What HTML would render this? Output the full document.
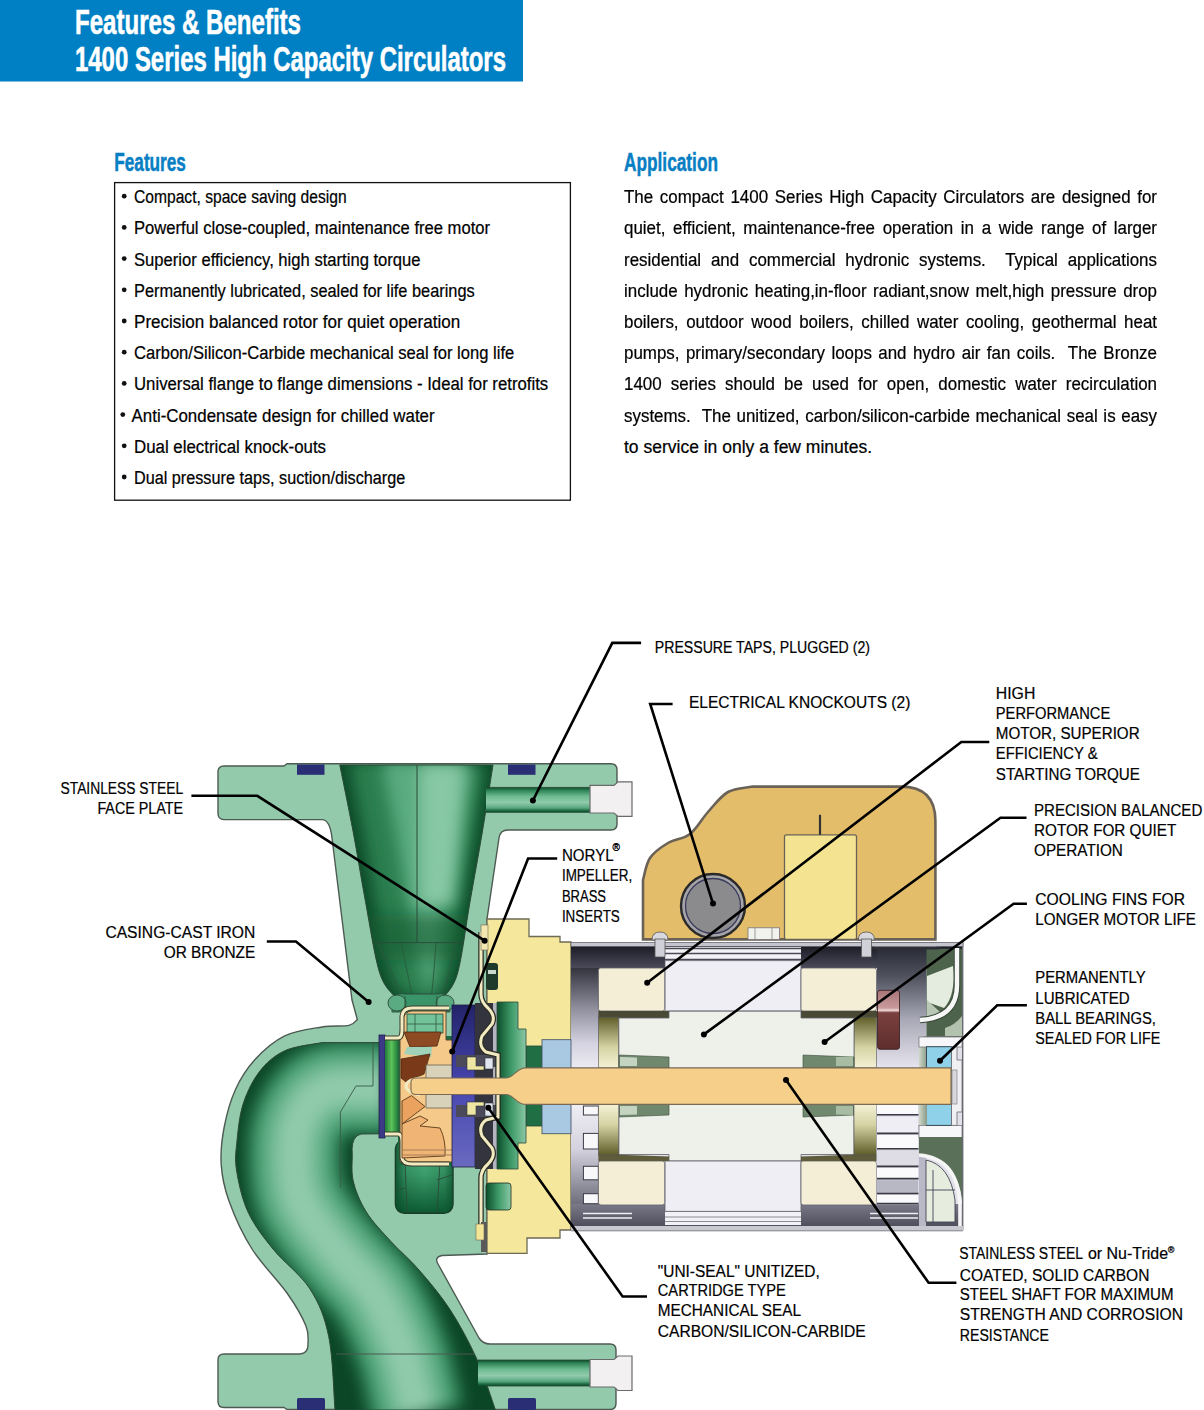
<!DOCTYPE html>
<html><head><meta charset="utf-8"><title>Features &amp; Benefits - 1400 Series High Capacity Circulators</title>
<style>
html,body{margin:0;padding:0;background:#fff;}
body{width:1204px;height:1410px;position:relative;overflow:hidden;font-family:"Liberation Sans", sans-serif;}
svg{position:absolute;left:0;top:0;}
svg text{font-family:"Liberation Sans", sans-serif;}
.pl{position:absolute;left:624px;width:567.02px;height:20px;line-height:20px;font-size:18px;color:#000;-webkit-text-stroke:0.22px #000;
  text-align:justify;text-align-last:justify;white-space:nowrap;transform-origin:0 0;transform:scaleX(0.94);}
</style></head>
<body>
<svg width="1204" height="1410" viewBox="0 0 1204 1410">
<defs>
<filter id="blur8" filterUnits="userSpaceOnUse" x="0" y="0" width="1204" height="1410"><feGaussianBlur stdDeviation="8"/></filter>
<filter id="blur5" filterUnits="userSpaceOnUse" x="0" y="0" width="1204" height="1410"><feGaussianBlur stdDeviation="5"/></filter>
<filter id="blur3" filterUnits="userSpaceOnUse" x="0" y="0" width="1204" height="1410"><feGaussianBlur stdDeviation="3"/></filter>
<linearGradient id="gTap" x1="0" y1="0" x2="0" y2="1">
 <stop offset="0" stop-color="#0b4a2a"/><stop offset="0.12" stop-color="#2f8456"/><stop offset="0.35" stop-color="#6cb990"/><stop offset="0.6" stop-color="#90cbac"/><stop offset="0.82" stop-color="#5aa880"/><stop offset="0.92" stop-color="#1f6e44"/><stop offset="1" stop-color="#0b4a2a"/>
</linearGradient>
<linearGradient id="gHousTop" x1="0" y1="0" x2="0" y2="1">
 <stop offset="0" stop-color="#1c1c26"/><stop offset="1" stop-color="#4a4a5a"/>
</linearGradient>
<linearGradient id="gHousSide" x1="0" y1="0" x2="0" y2="1">
 <stop offset="0" stop-color="#2a2a38"/><stop offset="0.45" stop-color="#8a8a9a"/><stop offset="1" stop-color="#e4e2ee"/>
</linearGradient>
<linearGradient id="gHousSideB" x1="0" y1="1" x2="0" y2="0">
 <stop offset="0" stop-color="#3a3a48"/><stop offset="0.45" stop-color="#9a9aaa"/><stop offset="1" stop-color="#e4e2ee"/>
</linearGradient>
<linearGradient id="gOlive" x1="0" y1="0" x2="0" y2="1">
 <stop offset="0" stop-color="#5f5e2a"/><stop offset="0.6" stop-color="#d6d4a4"/><stop offset="1" stop-color="#f4f2d6"/>
</linearGradient>
<linearGradient id="gOliveB" x1="0" y1="1" x2="0" y2="0">
 <stop offset="0" stop-color="#5f5e2a"/><stop offset="0.6" stop-color="#d6d4a4"/><stop offset="1" stop-color="#f4f2d6"/>
</linearGradient>
<linearGradient id="gBlue" x1="0" y1="0" x2="0" y2="1">
 <stop offset="0" stop-color="#23236a"/><stop offset="0.5" stop-color="#4646b0"/><stop offset="1" stop-color="#6a6ac0"/>
</linearGradient>
<linearGradient id="gRed" x1="0" y1="0" x2="0" y2="1">
 <stop offset="0" stop-color="#a87478"/><stop offset="0.3" stop-color="#c89a9c"/><stop offset="0.34" stop-color="#f0d8d8"/><stop offset="0.38" stop-color="#7a403e"/><stop offset="1" stop-color="#5e2e2e"/>
</linearGradient>
<linearGradient id="gGreenBand" x1="0" y1="0" x2="1" y2="0">
 <stop offset="0" stop-color="#1f7a3a"/><stop offset="0.5" stop-color="#5cc45a"/><stop offset="1" stop-color="#1f7a3a"/>
</linearGradient>
<linearGradient id="gDarkGreen" x1="0" y1="0" x2="1" y2="0">
 <stop offset="0" stop-color="#0c4e2a"/><stop offset="0.5" stop-color="#3f9a68"/><stop offset="1" stop-color="#8ac8a6"/>
</linearGradient>
<linearGradient id="gHousBot" x1="0" y1="0" x2="0" y2="1">
 <stop offset="0" stop-color="#7a7a88"/><stop offset="1" stop-color="#4e4e5c"/>
</linearGradient>
<linearGradient id="gWallL" x1="0" y1="0" x2="0" y2="1">
 <stop offset="0" stop-color="#34343f"/><stop offset="0.4" stop-color="#8e8e9c"/><stop offset="0.75" stop-color="#d4d2e0"/><stop offset="1" stop-color="#ecebf2"/>
</linearGradient>
<linearGradient id="gWallLB" x1="0" y1="0" x2="0" y2="1">
 <stop offset="0" stop-color="#f0eff4"/><stop offset="0.45" stop-color="#d4d2de"/><stop offset="1" stop-color="#6e6e7c"/>
</linearGradient>
<linearGradient id="gWallR" x1="0" y1="0" x2="0" y2="1">
 <stop offset="0" stop-color="#262832"/><stop offset="0.25" stop-color="#50525e"/><stop offset="0.6" stop-color="#a8a8b6"/><stop offset="1" stop-color="#e6e4ee"/>
</linearGradient>
<linearGradient id="gWallR2" x1="0" y1="0" x2="1" y2="0">
 <stop offset="0" stop-color="#cfd8c8"/><stop offset="1" stop-color="#8a9a88"/>
</linearGradient>
<linearGradient id="gVol" x1="0" y1="0" x2="0" y2="1">
 <stop offset="0" stop-color="#58b486"/><stop offset="0.45" stop-color="#3c9e6c"/><stop offset="1" stop-color="#0c5a32"/>
</linearGradient>
<linearGradient id="gVolH" x1="0" y1="0" x2="1" y2="0">
 <stop offset="0" stop-color="#0a4a28" stop-opacity="0.85"/><stop offset="0.18" stop-color="#0a4a28" stop-opacity="0.2"/><stop offset="0.5" stop-color="#0a4a28" stop-opacity="0"/><stop offset="0.85" stop-color="#0a4a28" stop-opacity="0.2"/><stop offset="1" stop-color="#0a4a28" stop-opacity="0.7"/>
</linearGradient>
<linearGradient id="gFan" x1="0" y1="0" x2="1" y2="1">
 <stop offset="0" stop-color="#3e5a3e"/><stop offset="1" stop-color="#93a890"/>
</linearGradient>
</defs>
<path d="M224,766 L284,766 L287,763.8 L611,763.8 Q617,763.8 617,770 L617,824 Q617,830 611,830 L508,830 Q500,830 499,838 L487,919 L487,1254 L442,1255.5 Q434,1257 438,1264 L479,1338 Q483,1344 490,1344 L610,1344 Q616,1344 616,1350 L616,1403 Q616,1409.5 610,1409.5 L287,1409.5 L284,1407.5 L224,1407.5 Q218,1407.5 218,1401.5 L218,1360 Q218,1354 224,1354 L300,1354 Q308,1353 308,1345 C307.7,1341.8 309.5,1334.7 306.0,1326.0 C302.5,1317.3 296.0,1305.8 287.0,1293.0 C278.0,1280.2 261.7,1264.3 252.0,1249.0 C242.3,1233.7 234.1,1215.1 229.0,1201.0 C223.9,1186.9 222.0,1176.7 221.2,1164.4 C220.4,1152.1 221.8,1139.5 224.2,1127.0 C226.6,1114.5 230.3,1100.9 235.4,1089.7 C240.5,1078.5 246.6,1068.8 254.8,1059.8 C263.0,1050.8 273.5,1041.4 284.7,1035.9 C295.9,1030.4 311.3,1028.8 322.0,1027.0 C332.7,1025.2 343.1,1026.7 349.0,1025.4 C354.9,1024.1 355.9,1020.4 357.3,1019.4 L352,1000 L332,838 Q330,819.6 322,819.6 L224,819.6 Q218,819.6 218,813 L218,772 Q218,766 224,766 Z" fill="#92caab" stroke="#4d5a52" stroke-width="1.4"/>
<clipPath id="cCone"><path d="M339.8,765 C342.0,776.0 348.7,808.2 353.0,831.0 C357.3,853.8 361.1,878.2 365.5,901.8 C369.9,925.4 374.6,956.8 379.6,972.8 C384.6,988.8 392.9,993.5 395.6,997.6 Q420,1006 443.5,997.6 C445.9,993.5 453.3,988.8 457.7,972.8 C462.1,956.8 465.9,925.4 470.0,901.8 C474.1,878.2 478.7,853.8 482.5,831.0 C486.3,808.2 491.2,776.0 493.0,765.0 Z"/></clipPath>
<g clip-path="url(#cCone)"><rect x="330" y="760" width="170" height="250" fill="#0a4826"/><g filter="url(#blur8)"><path d="M348.8,760 C351.0,776.0 357.7,808.2 362.0,831.0 C366.3,853.8 370.1,878.2 374.5,901.8 C378.9,925.4 383.6,956.8 388.6,972.8 C393.6,988.8 401.9,993.5 404.6,997.6 L436.5,997.6 C438.9,993.5 446.3,988.8 450.7,972.8 C455.1,956.8 458.9,925.4 463.0,901.8 C467.1,878.2 471.7,853.8 475.5,831.0 C479.3,808.2 484.2,776.0 486.0,765.0 Z" fill="#2a7e50"/></g><g filter="url(#blur8)"><path d="M381.8,760 C384.0,776.0 390.7,808.2 395.0,831.0 C399.3,853.8 403.1,878.2 407.5,901.8 C411.9,925.4 416.6,956.8 421.6,972.8 C426.6,988.8 434.9,993.5 437.6,997.6 L421.5,997.6 C423.9,993.5 431.3,988.8 435.7,972.8 C440.1,956.8 443.9,925.4 448.0,901.8 C452.1,878.2 456.7,853.8 460.5,831.0 C464.3,808.2 469.2,776.0 471.0,765.0 Z" fill="#5aab80"/></g><g filter="url(#blur8)"><path d="M420,765 L464,765 L452,905 L420,905 Z" fill="#88c8a5"/></g><g filter="url(#blur8)"><path d="M360,915 L480,915 L470,960 L370,960 Z" fill="#0e5a32" opacity="0.55"/></g><path d="M340,942.6 L495,942.6" stroke="#2a4a38" stroke-width="0.9"/><path d="M417,765 L417,942.6" stroke="#2a4a38" stroke-width="1"/><path d="M378,942.6 Q392,975 404,998 M401,942.6 Q408,975 413,1000 M436,942.6 Q434,975 431,1000 M455,942.6 Q450,975 441,998" stroke="#2a5a40" stroke-width="0.9" fill="none"/></g>
<path d="M339.8,765 C342.0,776.0 348.7,808.2 353.0,831.0 C357.3,853.8 361.1,878.2 365.5,901.8 C369.9,925.4 374.6,956.8 379.6,972.8 C384.6,988.8 392.9,993.5 395.6,997.6 Q420,1006 443.5,997.6 C445.9,993.5 453.3,988.8 457.7,972.8 C462.1,956.8 465.9,925.4 470.0,901.8 C474.1,878.2 478.7,853.8 482.5,831.0 C486.3,808.2 491.2,776.0 493.0,765.0 Z" fill="none" stroke="#2c4a38" stroke-width="1"/>
<clipPath id="cS"><path d="M335,1410 C333.9,1397.8 332.9,1356.7 328.7,1336.5 C324.5,1316.3 319.3,1303.6 310.0,1289.0 C300.7,1274.4 283.3,1261.8 273.0,1249.0 C262.7,1236.2 254.1,1225.2 248.0,1212.0 C241.9,1198.8 238.3,1181.7 236.5,1170.0 C234.7,1158.3 235.8,1152.9 236.9,1142.0 C238.0,1131.1 239.2,1116.3 242.9,1104.6 C246.6,1092.9 252.3,1080.8 259.3,1071.8 C266.3,1062.8 274.2,1055.7 284.7,1050.8 C295.1,1045.9 315.8,1044.0 322.0,1042.6 L380,1042.6 L380,1133.8 L361,1134 Q352,1136 352,1150 C353.0,1155.0 350.8,1169.8 353.0,1180.0 C355.2,1190.2 359.7,1201.2 366.0,1211.5 C372.3,1221.8 382.2,1231.8 391.0,1241.6 C399.8,1251.3 409.2,1258.7 419.0,1270.0 C428.8,1281.3 440.4,1294.7 450.0,1309.5 C459.6,1324.3 469.2,1342.2 476.8,1359.0 C484.4,1375.8 492.4,1401.5 495.5,1410.0 Z"/></clipPath>
<g clip-path="url(#cS)"><rect x="220" y="1030" width="290" height="390" fill="#0b4626"/><g filter="url(#blur8)"><path d="M390,1088 L340,1088 C312,1088 294,1120 294,1150 C294,1180 296,1195 307,1212 C318,1230 345,1262 364,1280 C382,1298 398,1340 405,1360 L418,1415" stroke="#3a9466" stroke-width="92" fill="none"/><path d="M390,1088 L340,1088 C312,1088 294,1120 294,1150 C294,1180 296,1195 307,1212 C318,1230 345,1262 364,1280 C382,1298 398,1340 405,1360 L418,1415" stroke="#66b48c" stroke-width="64" fill="none"/><path d="M390,1088 L340,1088 C312,1088 294,1120 294,1150 C294,1180 296,1195 307,1212 C318,1230 345,1262 364,1280 C382,1298 398,1340 405,1360 L418,1415" stroke="#90cbac" stroke-width="34" fill="none"/></g><path d="M336,1354 L496,1354" stroke="#4a5a50" stroke-width="1"/><path d="M373,1041 L373,1086 L356,1086 L340.4,1112 L340.4,1188" stroke="#3a5a48" stroke-width="0.9" fill="none"/></g>
<path d="M335,1410 C333.9,1397.8 332.9,1356.7 328.7,1336.5 C324.5,1316.3 319.3,1303.6 310.0,1289.0 C300.7,1274.4 283.3,1261.8 273.0,1249.0 C262.7,1236.2 254.1,1225.2 248.0,1212.0 C241.9,1198.8 238.3,1181.7 236.5,1170.0 C234.7,1158.3 235.8,1152.9 236.9,1142.0 C238.0,1131.1 239.2,1116.3 242.9,1104.6 C246.6,1092.9 252.3,1080.8 259.3,1071.8 C266.3,1062.8 274.2,1055.7 284.7,1050.8 C295.1,1045.9 315.8,1044.0 322.0,1042.6 L380,1042.6 L380,1133.8 L361,1134 Q352,1136 352,1150 C353.0,1155.0 350.8,1169.8 353.0,1180.0 C355.2,1190.2 359.7,1201.2 366.0,1211.5 C372.3,1221.8 382.2,1231.8 391.0,1241.6 C399.8,1251.3 409.2,1258.7 419.0,1270.0 C428.8,1281.3 440.4,1294.7 450.0,1309.5 C459.6,1324.3 469.2,1342.2 476.8,1359.0 C484.4,1375.8 492.4,1401.5 495.5,1410.0 Z" fill="none" stroke="#2c4a38" stroke-width="1"/>
<rect x="395.4" y="1140" width="57.6" height="73.3" rx="9" fill="url(#gVol)" stroke="#1e3a2a" stroke-width="1.4"/>
<rect x="395.4" y="1140" width="57.6" height="73.3" rx="9" fill="url(#gVolH)"/>
<path d="M405,1162 L407,1212 M440,1162 L437,1212 M398,1190 L405,1188 M437,1180 L452,1175" stroke="#2a4a38" stroke-width="0.9"/>
<rect x="486" y="787.4" width="106" height="25" fill="url(#gTap)"/>
<path d="M487,787.4 L592,787.4 M485,812.3 L592,812.3" stroke="#2a4a38" stroke-width="0.8"/>
<rect x="478" y="1360" width="114" height="26" fill="url(#gTap)"/>
<path d="M478,1360 L592,1360 M486,1386 L592,1386" stroke="#2a4a38" stroke-width="0.8"/>
<path d="M590,785.4 L614,785.4 L618,781.8 L632,781.8 L632,816.4 L618,816.4 L614,813 L590,813 Z" fill="#f2f0f0" stroke="#6a6a6a" stroke-width="1.2"/>
<path d="M590,1359.5 L614,1359.5 L618,1356 L632,1356 L632,1390.5 L618,1390.5 L614,1387 L590,1387 Z" fill="#f2f0f0" stroke="#6a6a6a" stroke-width="1.2"/>
<rect x="297" y="764.5" width="27.5" height="10.3" fill="#2a2e74"/>
<rect x="297" y="1398" width="28" height="12" rx="1.5" fill="#2a2e74"/>
<rect x="508" y="764.5" width="27.5" height="10.3" fill="#2a2e74"/>
<rect x="508" y="1398" width="28" height="12" rx="1.5" fill="#2a2e74"/>
<path d="M487,919 L529,919 L529,936.5 L560,936.5 L560,942 L571,942 L571,1230 L560,1230 L560,1238 L527,1238 L527,1253.4 L487,1253.4 Z" fill="#f5e79b" stroke="#6d6a55" stroke-width="1.3"/>
<g><rect x="571" y="942" width="392" height="289" fill="#e2e1ea"/><rect x="571" y="946" width="392" height="22" fill="url(#gHousTop)"/><rect x="571" y="968" width="28" height="100" fill="url(#gWallL)"/><rect x="665" y="947" width="136" height="14" fill="#f2f2f6"/><path d="M665,948.5 L801,948.5 M665,953.5 L801,953.5 M665,959.5 L801,959.5" stroke="#4a4a56" stroke-width="1.4"/><rect x="665" y="960.7" width="136" height="50.3" fill="#efeef4" stroke="#60606a" stroke-width="0.8"/><rect x="598.4" y="968" width="66.3" height="43" rx="2.5" fill="#f4eed6" stroke="#60606a" stroke-width="0.8"/><rect x="801" y="968" width="75.5" height="43" rx="2.5" fill="#f4eed6" stroke="#60606a" stroke-width="0.8"/><rect x="598.4" y="1011" width="70.6" height="7" fill="#4a4934"/><rect x="801" y="1011" width="76" height="7" fill="#4a4934"/><rect x="598.4" y="1017" width="20.4" height="51" fill="url(#gOlive)" stroke="#50505a" stroke-width="0.6"/><rect x="854" y="1017" width="22.5" height="51" fill="url(#gOlive)" stroke="#50505a" stroke-width="0.6"/><path d="M618.8,1018 L669,1018 L669,1011.2 L801,1011.2 L801,1018 L854,1018 L854,1154.5 L801,1154.5 L801,1161 L669,1161 L669,1154.5 L618.8,1154.5 Z" fill="#eef1ea" stroke="#60606a" stroke-width="0.8"/><path d="M619,1055 L669,1057 L669,1068 L619,1068 Z" fill="#70886e" stroke="#3a4a3a" stroke-width="0.6"/><path d="M619,1104 L669,1104 L669,1115 L619,1117 Z" fill="#70886e" stroke="#3a4a3a" stroke-width="0.6"/><path d="M803,1055 L854,1057 L854,1068 L803,1068 Z" fill="#70886e" stroke="#3a4a3a" stroke-width="0.6"/><path d="M803,1104 L854,1104 L854,1115 L803,1117 Z" fill="#70886e" stroke="#3a4a3a" stroke-width="0.6"/><path d="M620,1057 L637,1057.5 L637,1066 L620,1066 Z M620,1106 L637,1106 L637,1114.5 L620,1115 Z" fill="#c4d4c0"/><path d="M836,1057 L853,1056.5 L853,1066 L836,1066 Z M836,1106 L853,1106 L853,1115 L836,1114.5 Z" fill="#a8bca4"/><rect x="877" y="946" width="49.5" height="122" fill="url(#gWallR)"/><rect x="919" y="1036" width="8" height="32" fill="url(#gWallR2)"/><rect x="877.5" y="990.3" width="22" height="59" rx="2.5" fill="url(#gRed)" stroke="#3e2424" stroke-width="0.9"/><rect x="926.5" y="948.8" width="35.5" height="88" fill="#4e634c"/><path d="M927,976 L953,966 Q956,995 944,1008 L927,1002 Z" fill="#e4ebdf"/><path d="M927,1000 L940,1012 Q935,1018 927,1020 Z" fill="#b9c8b4"/><path d="M945,1036 L962,1036 L962,1016 Q955,1025 945,1028 Z" fill="#b3c2ae"/><path d="M957,948 L957,985 Q957,1018 920,1020" fill="none" stroke="#3a4a3a" stroke-width="6.4"/><path d="M957,948 L957,985 Q957,1018 920,1020" fill="none" stroke="#f7f7f7" stroke-width="4.4"/><rect x="919" y="1037" width="43" height="10" fill="#f7f7f9" stroke="#6a6a72" stroke-width="0.7"/><rect x="926.5" y="1046.7" width="25" height="24.3" fill="#8fd1e8" stroke="#3a4a55" stroke-width="1"/><rect x="871" y="942.5" width="69" height="7" rx="2" fill="#2e2e38"/><path d="M874,946 L936,946" stroke="#e8e8ec" stroke-width="1.5"/><rect x="571" y="1204" width="392" height="22" fill="url(#gHousBot)"/><rect x="571" y="1104" width="28" height="100" fill="url(#gWallLB)"/><rect x="583.4" y="1106" width="15" height="9.0" fill="#f8f8fa" stroke="#3a3a44" stroke-width="1"/><rect x="583.4" y="1133.4" width="15" height="15.6" fill="#f8f8fa" stroke="#3a3a44" stroke-width="1"/><rect x="583.4" y="1166.3" width="15" height="13.5" fill="#f8f8fa" stroke="#3a3a44" stroke-width="1"/><rect x="583.4" y="1193.7" width="15" height="10.0" fill="#f8f8fa" stroke="#3a3a44" stroke-width="1"/><path d="M583,1213.5 L632,1213.5 M583,1218 L632,1218 M870,1213.5 L918,1213.5 M870,1218 L918,1218" stroke="#f0f0f4" stroke-width="1.6"/><rect x="665" y="1211" width="136" height="14" fill="#f2f2f6"/><path d="M665,1211.3 L801,1211.3 M665,1217 L801,1217 M665,1221.5 L801,1221.5" stroke="#8a8a94" stroke-width="1"/><rect x="665" y="1161" width="136" height="50.3" fill="#efeef4" stroke="#60606a" stroke-width="0.8"/><rect x="598.4" y="1161" width="66.3" height="44" rx="2.5" fill="#f4eed6" stroke="#60606a" stroke-width="0.8"/><rect x="801" y="1161" width="75.5" height="44" rx="2.5" fill="#f4eed6" stroke="#60606a" stroke-width="0.8"/><path d="M598.4,1154 L669,1156.5 L669,1161 L598.4,1161 Z" fill="#5e5c3a"/><path d="M801,1156.5 L877,1154 L877,1161 L801,1161 Z" fill="#5e5c3a"/><rect x="598.4" y="1104" width="20.4" height="51" fill="url(#gOliveB)" stroke="#50505a" stroke-width="0.6"/><rect x="854" y="1104" width="22.5" height="51" fill="url(#gOliveB)" stroke="#50505a" stroke-width="0.6"/><rect x="876.5" y="1104.4" width="42" height="100" fill="#d2d2dc"/><rect x="877" y="1105" width="41" height="9.8" fill="#fafafc"/><rect x="877" y="1116.5" width="41" height="16.9" fill="#eeeef4"/><rect x="877" y="1135" width="41" height="13.8" fill="#fafafc"/><rect x="877" y="1150.5" width="41" height="15.9" fill="#dedde6"/><rect x="877" y="1168" width="41" height="10.6" fill="#fafafc"/><rect x="877" y="1180.3" width="41" height="13.2" fill="#b8b8c4"/><rect x="877" y="1195" width="41" height="8.0" fill="#fafafc"/><path d="M877,1114.8 L918.5,1114.8" stroke="#3a3a44" stroke-width="1.6"/><path d="M877,1133.4 L918.5,1133.4" stroke="#3a3a44" stroke-width="1.6"/><path d="M877,1148.8 L918.5,1148.8" stroke="#3a3a44" stroke-width="1.6"/><path d="M877,1166.4 L918.5,1166.4" stroke="#3a3a44" stroke-width="1.6"/><path d="M877,1178.6 L918.5,1178.6" stroke="#3a3a44" stroke-width="1.6"/><path d="M877,1193.5 L918.5,1193.5" stroke="#3a3a44" stroke-width="1.6"/><path d="M877,1203.5 L918.5,1203.5" stroke="#3a3a44" stroke-width="1.6"/><rect x="919" y="1125.4" width="43" height="12" fill="#f7f7f9" stroke="#6a6a72" stroke-width="0.7"/><rect x="926.5" y="1101" width="25" height="24.4" fill="#8fd1e8" stroke="#3a4a55" stroke-width="1"/><rect x="919" y="1104" width="8" height="21" fill="url(#gWallR2)"/><path d="M919,1137 L962,1137 L962,1200 Q958,1160 919,1155 Z" fill="#5a7058"/><rect x="919" y="1155" width="7" height="71" fill="#b8b8c6"/><path d="M926,1160 Q950,1165 955,1200 L955,1222 L926,1222 Z" fill="#e6ecde" stroke="#445" stroke-width="0.9"/><path d="M933,1170 L933,1222 M926,1190 L955,1190" stroke="#445" stroke-width="0.9"/><path d="M919,1155 Q958,1158 960,1205 L960,1226" fill="none" stroke="#f6f6f6" stroke-width="3.6"/><path d="M951.5,1046.7 L957,1046.7 L957,1060 L962,1060 L962,1112 L957,1112 L957,1125.4 L951.5,1125.4 Z" fill="#f0f0f2" stroke="#6a6a72" stroke-width="0.8"/><rect x="952" y="1070" width="5" height="34" fill="#d8d8dc" stroke="#777" stroke-width="0.6"/><path d="M962.7,942.4 L962.7,1230.5 M571,1230.5 L962.7,1230.5" stroke="#6a6a72" stroke-width="1.4" fill="none"/><rect x="571" y="1226" width="392" height="4.5" fill="#c8c8d0"/><rect x="571" y="942.4" width="392" height="4" fill="#c4c4cc" stroke="#60606a" stroke-width="0.7"/></g>
<path d="M392,1012 L392,1000 Q396,992 405,994 L437,994 Q446,992 450,1000 L450,1012 Z" fill="#3a946a" stroke="#2a4a38" stroke-width="0.9"/>
<ellipse cx="397" cy="1003" rx="9" ry="8" fill="#5aab82" stroke="#2a4a38" stroke-width="0.9"/>
<ellipse cx="445" cy="1003" rx="9" ry="8" fill="#5aab82" stroke="#2a4a38" stroke-width="0.9"/>
<path d="M405,996 L405,1012 M437,996 L437,1012" stroke="#2a4a38" stroke-width="0.8"/>
<rect x="398" y="1036" width="55" height="129" fill="#1d6a40"/>
<rect x="379" y="1035" width="6" height="103" fill="#3c3a86" stroke="#22224a" stroke-width="0.8"/>
<rect x="385" y="1038" width="13" height="97" fill="url(#gGreenBand)"/>
<path d="M400,1040 Q400,1011 412,1011 L446,1011 L446,1040 L453,1040 L453,1162 L400,1162 L400,1133 Z" fill="#f5c98a" stroke="#5a4a30" stroke-width="1"/>
<path d="M385,1038 L398,1038 Q402,1038 402,1030 L402,1016 Q403,1008 412,1008 L449,1008" fill="none" stroke="#3a3a2a" stroke-width="5"/>
<path d="M385,1038 L398,1038 Q402,1038 402,1030 L402,1016 Q403,1008 412,1008 L449,1008" fill="none" stroke="#f2ebc2" stroke-width="3"/>
<path d="M385,1134 L398,1134 Q402,1134 402,1142 L402,1158 Q403,1164 412,1164 L449,1164" fill="none" stroke="#3a3a2a" stroke-width="5"/>
<path d="M385,1134 L398,1134 Q402,1134 402,1142 L402,1158 Q403,1164 412,1164 L449,1164" fill="none" stroke="#f2ebc2" stroke-width="3"/>
<rect x="407" y="1014" width="36" height="19" fill="#72c29a" stroke="#2a4a38" stroke-width="0.8"/>
<path d="M415,1014 L415,1033 M436,1014 L436,1033 M407,1024 L443,1024" stroke="#2a4a38" stroke-width="0.7"/>
<path d="M404,1032 L441,1032 L437,1046 L410,1047 Z" fill="#8e4a22" stroke="#4a2a12" stroke-width="0.8"/>
<path d="M407,1047 L432,1047 L431,1057 L404,1054 Z" fill="#9fd2b8"/>
<path d="M401,1059 L430,1054 L424,1074 L406,1082 L401,1078 Z" fill="#7a3a1a" stroke="#4a2a12" stroke-width="0.8"/>
<path d="M402,1124 L420,1116 L428,1120 L420,1126 L440,1128 Q446,1140 445,1156 L402,1158 Z" fill="#f0b474" stroke="#5a3a1a" stroke-width="0.9"/>
<path d="M402,1101 L411.5,1095.6 L425,1106.5 L402,1124 Z" fill="#eba25e" stroke="#5a3a1a" stroke-width="0.9"/>
<path d="M403,1150 L452,1150 M403,1155 L452,1155" stroke="#a8805a" stroke-width="1.2"/>
<path d="M426,1065 L453,1065 L453,1080 L426,1080 Z M426,1093 L453,1093 L453,1108 L426,1108 Z" fill="#d8d2bb" stroke="#6a6050" stroke-width="0.8"/>
<path d="M420,1078 Q406,1080 406,1086 Q406,1092 420,1095" fill="none" stroke="#f2ebc2" stroke-width="3"/>
<rect x="452" y="1005" width="23" height="162" fill="url(#gBlue)" stroke="#1e1e40" stroke-width="0.8"/>
<rect x="475" y="1003" width="22" height="166" fill="#34343e"/>
<rect x="493" y="1003" width="7" height="166" fill="#b4b4c0"/>
<rect x="456" y="1055" width="40" height="12" fill="#4a4a5a"/>
<rect x="456" y="1105" width="40" height="12" fill="#4a4a5a"/>
<path d="M467,1057 L476,1057 L476,1066 L484,1066 L484,1070 L467,1070 Z" fill="#eee7a4" stroke="#333" stroke-width="0.6"/>
<path d="M467,1115 L476,1115 L476,1106 L484,1106 L484,1102 L467,1102 Z" fill="#eee7a4" stroke="#333" stroke-width="0.6"/>
<rect x="485" y="1058" width="8" height="11" fill="#dfe6f0" stroke="#333" stroke-width="0.6"/>
<rect x="485" y="1103" width="8" height="13" fill="#dfe6f0" stroke="#333" stroke-width="0.6"/>
<rect x="526" y="1046" width="16" height="22" fill="#1f6e44" stroke="#2a4a38" stroke-width="0.8"/>
<rect x="526" y="1104" width="16" height="22" fill="#1f6e44" stroke="#2a4a38" stroke-width="0.8"/>
<path d="M497,1002 L518,1002 L518,1029 L526,1029 L526,1143 L518,1143 L518,1169 L497,1169 Z" fill="url(#gDarkGreen)" stroke="#2a4a38" stroke-width="0.8"/>
<rect x="542" y="1039.7" width="29" height="94" fill="#a9c9e2" stroke="#4a5a6a" stroke-width="0.9"/>
<path d="M481,932 L481,994 Q481,1002 488,1008 Q496,1016 492,1024 L482,1036 Q478,1046 486,1052 L498,1055 L498,1117 L486,1120 Q478,1126 482,1136 L492,1148 Q496,1156 488,1164 Q481,1170 481,1178 L481,1238" fill="none" stroke="#2e2e26" stroke-width="5.5"/>
<path d="M481,932 L481,994 Q481,1002 488,1008 Q496,1016 492,1024 L482,1036 Q478,1046 486,1052 L498,1055 L498,1117 L486,1120 Q478,1126 482,1136 L492,1148 Q496,1156 488,1164 Q481,1170 481,1178 L481,1238" fill="none" stroke="#f2ebc2" stroke-width="3"/>
<rect x="486" y="963" width="12" height="27" rx="3" fill="#1f3a2a"/>
<rect x="488" y="970" width="8" height="4" fill="#c8d8cc"/>
<rect x="486" y="1183" width="25" height="27" rx="3" fill="url(#gDarkGreen)" stroke="#1e2e22" stroke-width="0.8"/>
<rect x="481" y="1222" width="6" height="30" fill="#5a5a5a"/>
<rect x="476" y="1224" width="8" height="16" fill="#f5e597" stroke="#6d6a55" stroke-width="0.6"/>
<rect x="481" y="925" width="7" height="25" fill="#f3e6b0" stroke="#6d6a55" stroke-width="0.6"/>
<path d="M411,1082 Q411,1078 416,1078 L506,1078 C514,1078 516,1067.9 526,1067.9 L951,1067.9 L951,1104.4 L526,1104.4 C516,1104.4 514,1094.5 506,1094.5 L416,1094.5 Q411,1094.5 411,1090 Z" fill="#f6cf8a" stroke="#7a6a55" stroke-width="1.1"/>
<path d="M643,939.4 L643,880 C644.2,876.3 645.8,864.2 650.0,858.0 C654.2,851.8 661.3,847.0 668.0,843.0 C674.7,839.0 683.3,839.2 690.0,834.0 C696.7,828.8 701.7,819.0 708.0,812.0 C714.3,805.0 720.5,796.2 728.0,792.0 C735.5,787.8 748.8,787.5 753.0,786.6 L901,786.6 Q935.4,786.6 935.4,821 L935.4,939.4 Z" fill="#e3bd6a" stroke="#6a6257" stroke-width="2.6"/>
<rect x="784.5" y="834.8" width="72" height="104.6" rx="2" fill="#f4e492" stroke="#6a6257" stroke-width="1.3"/>
<path d="M820,814.8 L820,834.8" stroke="#333" stroke-width="2.2"/>
<rect x="748" y="927.8" width="31.5" height="11.6" fill="#f2f2ee" stroke="#777" stroke-width="0.8"/>
<path d="M755,928 L755,939 M772,928 L772,939" stroke="#999" stroke-width="1"/>
<circle cx="713" cy="906" r="32" fill="#a4a4a9" stroke="#2a2a2a" stroke-width="2.4"/>
<circle cx="713" cy="906" r="27.5" fill="#8b8b8e" stroke="#3a3a5a" stroke-width="1.3"/>
<path d="M652,940 Q652,932 660,932 Q668,932 668,940 Z" fill="#d8d8de" stroke="#555" stroke-width="0.8"/>
<rect x="655" y="939" width="10" height="18" fill="#d0d0d8" stroke="#555" stroke-width="0.8"/>
<path d="M858.4,940 Q858.4,932 866.4,932 Q874.4,932 874.4,940 Z" fill="#d8d8de" stroke="#555" stroke-width="0.8"/>
<rect x="861.4" y="939" width="10" height="18" fill="#d0d0d8" stroke="#555" stroke-width="0.8"/>

<rect x="0" y="0" width="523" height="81.5" fill="#0080c4"/>
<text x="75" y="33.6" font-size="35.5" fill="#fff" font-weight="bold" textLength="226" lengthAdjust="spacingAndGlyphs" text-anchor="start" stroke="#fff" stroke-width="0.6">Features &amp; Benefits</text>
<text x="75" y="71" font-size="35.5" fill="#fff" font-weight="bold" textLength="431" lengthAdjust="spacingAndGlyphs" text-anchor="start" stroke="#fff" stroke-width="0.6">1400 Series High Capacity Circulators</text>
<text x="114.3" y="170.5" font-size="25.8" fill="#087ec3" font-weight="bold" textLength="71.6" lengthAdjust="spacingAndGlyphs" text-anchor="start" stroke="#087ec3" stroke-width="0.5">Features</text>
<text x="624" y="171" font-size="25.8" fill="#087ec3" font-weight="bold" textLength="94" lengthAdjust="spacingAndGlyphs" text-anchor="start" stroke="#087ec3" stroke-width="0.5">Application</text>
<rect x="114.6" y="182.6" width="455.8" height="317.6" fill="none" stroke="#111" stroke-width="1.3"/>
<circle cx="124.2" cy="196.2" r="2.4" fill="#111"/>
<text x="134" y="203.2" font-size="18" fill="#000" font-weight="normal" textLength="212.6" lengthAdjust="spacingAndGlyphs" text-anchor="start" stroke="#000" stroke-width="0.22">Compact, space saving design</text>
<circle cx="124.2" cy="227.39999999999998" r="2.4" fill="#111"/>
<text x="134" y="234.39999999999998" font-size="18" fill="#000" font-weight="normal" textLength="356" lengthAdjust="spacingAndGlyphs" text-anchor="start" stroke="#000" stroke-width="0.22">Powerful close-coupled, maintenance free motor</text>
<circle cx="124.2" cy="258.59999999999997" r="2.4" fill="#111"/>
<text x="134" y="265.59999999999997" font-size="18" fill="#000" font-weight="normal" textLength="286.6" lengthAdjust="spacingAndGlyphs" text-anchor="start" stroke="#000" stroke-width="0.22">Superior efficiency, high starting torque</text>
<circle cx="124.2" cy="289.79999999999995" r="2.4" fill="#111"/>
<text x="134" y="296.79999999999995" font-size="18" fill="#000" font-weight="normal" textLength="340.7" lengthAdjust="spacingAndGlyphs" text-anchor="start" stroke="#000" stroke-width="0.22">Permanently lubricated, sealed for life bearings</text>
<circle cx="124.2" cy="321.0" r="2.4" fill="#111"/>
<text x="134" y="328.0" font-size="18" fill="#000" font-weight="normal" textLength="326.2" lengthAdjust="spacingAndGlyphs" text-anchor="start" stroke="#000" stroke-width="0.22">Precision balanced rotor for quiet operation</text>
<circle cx="124.2" cy="352.2" r="2.4" fill="#111"/>
<text x="134" y="359.2" font-size="18" fill="#000" font-weight="normal" textLength="380.2" lengthAdjust="spacingAndGlyphs" text-anchor="start" stroke="#000" stroke-width="0.22">Carbon/Silicon-Carbide mechanical seal for long life</text>
<circle cx="124.2" cy="383.4" r="2.4" fill="#111"/>
<text x="134" y="390.4" font-size="18" fill="#000" font-weight="normal" textLength="414.2" lengthAdjust="spacingAndGlyphs" text-anchor="start" stroke="#000" stroke-width="0.22">Universal flange to flange dimensions - Ideal for retrofits</text>
<circle cx="122.8" cy="414.6" r="2.4" fill="#111"/>
<text x="131.6" y="421.6" font-size="18" fill="#000" font-weight="normal" textLength="303.0" lengthAdjust="spacingAndGlyphs" text-anchor="start" stroke="#000" stroke-width="0.22">Anti-Condensate design for chilled water</text>
<circle cx="124.2" cy="445.79999999999995" r="2.4" fill="#111"/>
<text x="134" y="452.79999999999995" font-size="18" fill="#000" font-weight="normal" textLength="192" lengthAdjust="spacingAndGlyphs" text-anchor="start" stroke="#000" stroke-width="0.22">Dual electrical knock-outs</text>
<circle cx="124.2" cy="477.0" r="2.4" fill="#111"/>
<text x="134" y="484.0" font-size="18" fill="#000" font-weight="normal" textLength="271.2" lengthAdjust="spacingAndGlyphs" text-anchor="start" stroke="#000" stroke-width="0.22">Dual pressure taps, suction/discharge</text>
<text x="624" y="452.7" font-size="18" fill="#000" font-weight="normal" textLength="248" lengthAdjust="spacingAndGlyphs" text-anchor="start" stroke="#000" stroke-width="0.22">to service in only a few minutes.</text>

<text x="60.5" y="793.5" font-size="16" fill="#000" stroke="#000" stroke-width="0.2" textLength="122.6" lengthAdjust="spacingAndGlyphs" text-anchor="start">STAINLESS STEEL</text>
<text x="97.4" y="813.6" font-size="16" fill="#000" stroke="#000" stroke-width="0.2" textLength="85.7" lengthAdjust="spacingAndGlyphs" text-anchor="start">FACE PLATE</text>
<text x="105.4" y="938.1" font-size="16" fill="#000" stroke="#000" stroke-width="0.2" textLength="149.9" lengthAdjust="spacingAndGlyphs" text-anchor="start">CASING-CAST IRON</text>
<text x="163.7" y="958.2" font-size="16" fill="#000" stroke="#000" stroke-width="0.2" textLength="91.6" lengthAdjust="spacingAndGlyphs" text-anchor="start">OR BRONZE</text>
<text x="654.8" y="652.8" font-size="16" fill="#000" stroke="#000" stroke-width="0.2" textLength="215.2" lengthAdjust="spacingAndGlyphs" text-anchor="start">PRESSURE TAPS, PLUGGED (2)</text>
<text x="689" y="708.1" font-size="16" fill="#000" stroke="#000" stroke-width="0.2" textLength="221.3" lengthAdjust="spacingAndGlyphs" text-anchor="start">ELECTRICAL KNOCKOUTS (2)</text>
<text x="995.8" y="698.6" font-size="16" fill="#000" stroke="#000" stroke-width="0.2" textLength="39.5" lengthAdjust="spacingAndGlyphs" text-anchor="start">HIGH</text>
<text x="995.8" y="718.5" font-size="16" fill="#000" stroke="#000" stroke-width="0.2" textLength="114.4" lengthAdjust="spacingAndGlyphs" text-anchor="start">PERFORMANCE</text>
<text x="995.8" y="738.6" font-size="16" fill="#000" stroke="#000" stroke-width="0.2" textLength="143.8" lengthAdjust="spacingAndGlyphs" text-anchor="start">MOTOR,  SUPERIOR</text>
<text x="995.8" y="759" font-size="16" fill="#000" stroke="#000" stroke-width="0.2" textLength="101.8" lengthAdjust="spacingAndGlyphs" text-anchor="start">EFFICIENCY &amp;</text>
<text x="995.8" y="779.5" font-size="16" fill="#000" stroke="#000" stroke-width="0.2" textLength="144.2" lengthAdjust="spacingAndGlyphs" text-anchor="start">STARTING TORQUE</text>
<text x="1034" y="815.8" font-size="16" fill="#000" stroke="#000" stroke-width="0.2" textLength="168.3" lengthAdjust="spacingAndGlyphs" text-anchor="start">PRECISION BALANCED</text>
<text x="1034" y="836.3" font-size="16" fill="#000" stroke="#000" stroke-width="0.2" textLength="142.3" lengthAdjust="spacingAndGlyphs" text-anchor="start">ROTOR FOR QUIET</text>
<text x="1034" y="856.4" font-size="16" fill="#000" stroke="#000" stroke-width="0.2" textLength="88.9" lengthAdjust="spacingAndGlyphs" text-anchor="start">OPERATION</text>
<text x="1035.3" y="904.5" font-size="16" fill="#000" stroke="#000" stroke-width="0.2" textLength="149.7" lengthAdjust="spacingAndGlyphs" text-anchor="start">COOLING FINS FOR</text>
<text x="1035.3" y="924.6" font-size="16" fill="#000" stroke="#000" stroke-width="0.2" textLength="160.7" lengthAdjust="spacingAndGlyphs" text-anchor="start">LONGER MOTOR LIFE</text>
<text x="1035.3" y="983.2" font-size="16" fill="#000" stroke="#000" stroke-width="0.2" textLength="110.3" lengthAdjust="spacingAndGlyphs" text-anchor="start">PERMANENTLY</text>
<text x="1035.3" y="1003.5" font-size="16" fill="#000" stroke="#000" stroke-width="0.2" textLength="94.4" lengthAdjust="spacingAndGlyphs" text-anchor="start">LUBRICATED</text>
<text x="1035.3" y="1024.4" font-size="16" fill="#000" stroke="#000" stroke-width="0.2" textLength="120.7" lengthAdjust="spacingAndGlyphs" text-anchor="start">BALL BEARINGS,</text>
<text x="1035.3" y="1044.3" font-size="16" fill="#000" stroke="#000" stroke-width="0.2" textLength="125.0" lengthAdjust="spacingAndGlyphs" text-anchor="start">SEALED FOR LIFE</text>
<text x="561.9" y="861.4" font-size="16" fill="#000" stroke="#000" stroke-width="0.2" textLength="51.7" lengthAdjust="spacingAndGlyphs" text-anchor="start">NORYL</text>
<text x="561.9" y="881.4" font-size="16" fill="#000" stroke="#000" stroke-width="0.2" textLength="70.3" lengthAdjust="spacingAndGlyphs" text-anchor="start">IMPELLER,</text>
<text x="561.9" y="902.1" font-size="16" fill="#000" stroke="#000" stroke-width="0.2" textLength="44.1" lengthAdjust="spacingAndGlyphs" text-anchor="start">BRASS</text>
<text x="561.9" y="922.4" font-size="16" fill="#000" stroke="#000" stroke-width="0.2" textLength="57.9" lengthAdjust="spacingAndGlyphs" text-anchor="start">INSERTS</text>
<text x="657.8" y="1276.6" font-size="16" fill="#000" stroke="#000" stroke-width="0.2" textLength="161.9" lengthAdjust="spacingAndGlyphs" text-anchor="start">&quot;UNI-SEAL&quot; UNITIZED,</text>
<text x="657.8" y="1296" font-size="16" fill="#000" stroke="#000" stroke-width="0.2" textLength="128.0" lengthAdjust="spacingAndGlyphs" text-anchor="start">CARTRIDGE TYPE</text>
<text x="657.8" y="1316.1" font-size="16" fill="#000" stroke="#000" stroke-width="0.2" textLength="143.2" lengthAdjust="spacingAndGlyphs" text-anchor="start">MECHANICAL SEAL</text>
<text x="657.8" y="1337" font-size="16" fill="#000" stroke="#000" stroke-width="0.2" textLength="207.9" lengthAdjust="spacingAndGlyphs" text-anchor="start">CARBON/SILICON-CARBIDE</text>
<text x="959.3" y="1259.3" font-size="16" fill="#000" stroke="#000" stroke-width="0.2" textLength="123.7" lengthAdjust="spacingAndGlyphs" text-anchor="start">STAINLESS STEEL</text>
<text x="1088" y="1259.3" font-size="16" fill="#000" stroke="#000" stroke-width="0.2" textLength="80.0" lengthAdjust="spacingAndGlyphs" text-anchor="start">or Nu-Tride</text>
<text x="959.8" y="1280.6" font-size="16" fill="#000" stroke="#000" stroke-width="0.2" textLength="189.6" lengthAdjust="spacingAndGlyphs" text-anchor="start">COATED, SOLID CARBON</text>
<text x="959.8" y="1300.3" font-size="16" fill="#000" stroke="#000" stroke-width="0.2" textLength="213.7" lengthAdjust="spacingAndGlyphs" text-anchor="start">STEEL SHAFT FOR MAXIMUM</text>
<text x="959.8" y="1320" font-size="16" fill="#000" stroke="#000" stroke-width="0.2" textLength="223.2" lengthAdjust="spacingAndGlyphs" text-anchor="start">STRENGTH AND CORROSION</text>
<text x="959.8" y="1340.9" font-size="16" fill="#000" stroke="#000" stroke-width="0.2" textLength="89.2" lengthAdjust="spacingAndGlyphs" text-anchor="start">RESISTANCE</text>
<text x="612.5" y="850.5" font-size="10" fill="#000" stroke="#000" stroke-width="0.35">®</text>
<text x="1168" y="1252.8" font-size="8.5" fill="#000" stroke="#000" stroke-width="0.3">®</text>
<path d="M191.4,795.8 L257.3,795.8 L484.6,940.7" fill="none" stroke="#000" stroke-width="2.6" stroke-linejoin="miter"/>
<circle cx="484.6" cy="940.7" r="3.0" fill="#000"/>
<path d="M266.8,941.5 L296,941.5 L368.6,1002" fill="none" stroke="#000" stroke-width="2.6" stroke-linejoin="miter"/>
<circle cx="368.6" cy="1002" r="3.0" fill="#000"/>
<path d="M641.1,642.9 L612.3,642.9 L532.9,800.5" fill="none" stroke="#000" stroke-width="2.6" stroke-linejoin="miter"/>
<circle cx="532.9" cy="800.5" r="3.0" fill="#000"/>
<path d="M672.6,704 L650.2,704 L713,903.6" fill="none" stroke="#000" stroke-width="2.6" stroke-linejoin="miter"/>
<circle cx="713" cy="903.6" r="3.0" fill="#000"/>
<path d="M989.3,742 L961.3,742 L647.2,982.8" fill="none" stroke="#000" stroke-width="2.6" stroke-linejoin="miter"/>
<circle cx="647.2" cy="982.8" r="3.0" fill="#000"/>
<path d="M1026.5,817.7 L1000.5,817.7 L703.9,1034.4" fill="none" stroke="#000" stroke-width="2.6" stroke-linejoin="miter"/>
<circle cx="703.9" cy="1034.4" r="3.0" fill="#000"/>
<path d="M1026.9,903.7 L1013.6,903.7 L824.6,1042" fill="none" stroke="#000" stroke-width="2.6" stroke-linejoin="miter"/>
<circle cx="824.6" cy="1042" r="3.0" fill="#000"/>
<path d="M1026.9,1005.3 L997.2,1005.3 L940,1060.7" fill="none" stroke="#000" stroke-width="2.6" stroke-linejoin="miter"/>
<circle cx="940" cy="1060.7" r="3.0" fill="#000"/>
<path d="M557.2,858.5 L528.1,858.5 L452.2,1051.4" fill="none" stroke="#000" stroke-width="2.6" stroke-linejoin="miter"/>
<circle cx="452.2" cy="1051.4" r="3.0" fill="#000"/>
<path d="M647,1296.5 L622.6,1296.5 L488.3,1107.8" fill="none" stroke="#000" stroke-width="2.6" stroke-linejoin="miter"/>
<circle cx="488.3" cy="1107.8" r="3.0" fill="#000"/>
<path d="M956.4,1282.8 L928.6,1282.8 L786,1080" fill="none" stroke="#000" stroke-width="2.6" stroke-linejoin="miter"/>
<circle cx="786" cy="1080" r="3.0" fill="#000"/>

</svg>
<div class="pl" style="top:187.1px">The compact 1400 Series High Capacity Circulators are designed for</div>
<div class="pl" style="top:218.3px">quiet, efficient, maintenance-free operation in a wide range of larger</div>
<div class="pl" style="top:249.5px">residential and commercial hydronic systems.&nbsp; Typical applications</div>
<div class="pl" style="top:280.7px">include hydronic heating,in-floor radiant,snow melt,high pressure drop</div>
<div class="pl" style="top:311.9px">boilers, outdoor wood boilers, chilled water cooling, geothermal heat</div>
<div class="pl" style="top:343.1px">pumps, primary/secondary loops and hydro air fan coils.&nbsp; The Bronze</div>
<div class="pl" style="top:374.3px">1400 series should be used for open, domestic water recirculation</div>
<div class="pl" style="top:405.5px">systems.&nbsp; The unitized, carbon/silicon-carbide mechanical seal is easy</div>

</body></html>
